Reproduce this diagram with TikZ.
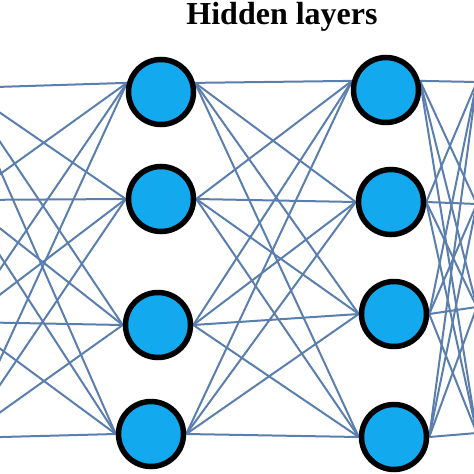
\documentclass[tikz,border=0pt]{standalone}
\usepackage{fontspec}
\setmainfont{Liberation Serif}
\usetikzlibrary{backgrounds}
\definecolor{nodefill}{HTML}{12A9EE}
\definecolor{linkc}{HTML}{5A7EAE}
\begin{document}
\begin{tikzpicture}[x=1pt,y=-1pt,
  neuron/.style={circle, draw=black, line width=5.5pt, fill=nodefill, minimum size=65pt, inner sep=0pt},
  ghost/.style={circle, minimum size=70pt, inner sep=0pt},
  link/.style={draw=linkc, line width=2pt},
  title/.style={font=\bfseries\fontsize{32}{32}\selectfont, anchor=base, inner sep=0pt}]
\useasboundingbox (0,0) rectangle (474,474);
% title
\node[title] (ttl) at (282,24) {Hidden layers};
% input layer (off canvas)
\node[ghost] (i1) at (-36,88) {};
\node[ghost] (i2) at (-36,200) {};
\node[ghost] (i3) at (-36,322) {};
\node[ghost] (i4) at (-36,438) {};
% hidden layer 1
\node[neuron] (a1) at (161,92) {};
\node[neuron] (a2) at (161,199) {};
\node[neuron] (a3) at (158,325) {};
\node[neuron] (a4) at (151,434) {};
% hidden layer 2
\node[neuron] (b1) at (386,90) {};
\node[neuron] (b2) at (391,202) {};
\node[neuron] (b3) at (394,314) {};
\node[neuron] (b4) at (394,437) {};
% output layer (off canvas)
\node[ghost] (o1) at (512,82) {};
\node[ghost] (o2) at (512,204) {};
\node[ghost] (o3) at (512,307) {};
\node[ghost] (o4) at (512,433) {};
% connection points
\coordinate (a1in) at (a1.165); \coordinate (a1out) at (a1.15);
\coordinate (a2in) at (a2.west); \coordinate (a2out) at (a2.east);
\coordinate (a3in) at (a3.west); \coordinate (a3out) at (a3.east);
\coordinate (a4in) at (a4.west); \coordinate (a4out) at (a4.east);
\coordinate (b1in) at (b1.165); \coordinate (b1out) at (b1.15);
\coordinate (b2in) at (b2.west); \coordinate (b2out) at (b2.east);
\coordinate (b3in) at (b3.west); \coordinate (b3out) at (b3.east);
\coordinate (b4in) at (b4.west); \coordinate (b4out) at (b4.east);
\coordinate (o1in) at (o1.west);
\coordinate (o2in) at (o2.west);
\coordinate (o3in) at (o3.west);
\coordinate (o4in) at (o4.west);
\begin{scope}[on background layer]
\foreach \i in {1,...,4}{
  \foreach \j in {1,...,4}{
    \draw[link] (i\i) -- (a\j in);
    \draw[link] (a\i out) -- (b\j in);
    \draw[link] (b\i out) -- (o\j in);
  }
}
\end{scope}
\end{tikzpicture}
\end{document}
